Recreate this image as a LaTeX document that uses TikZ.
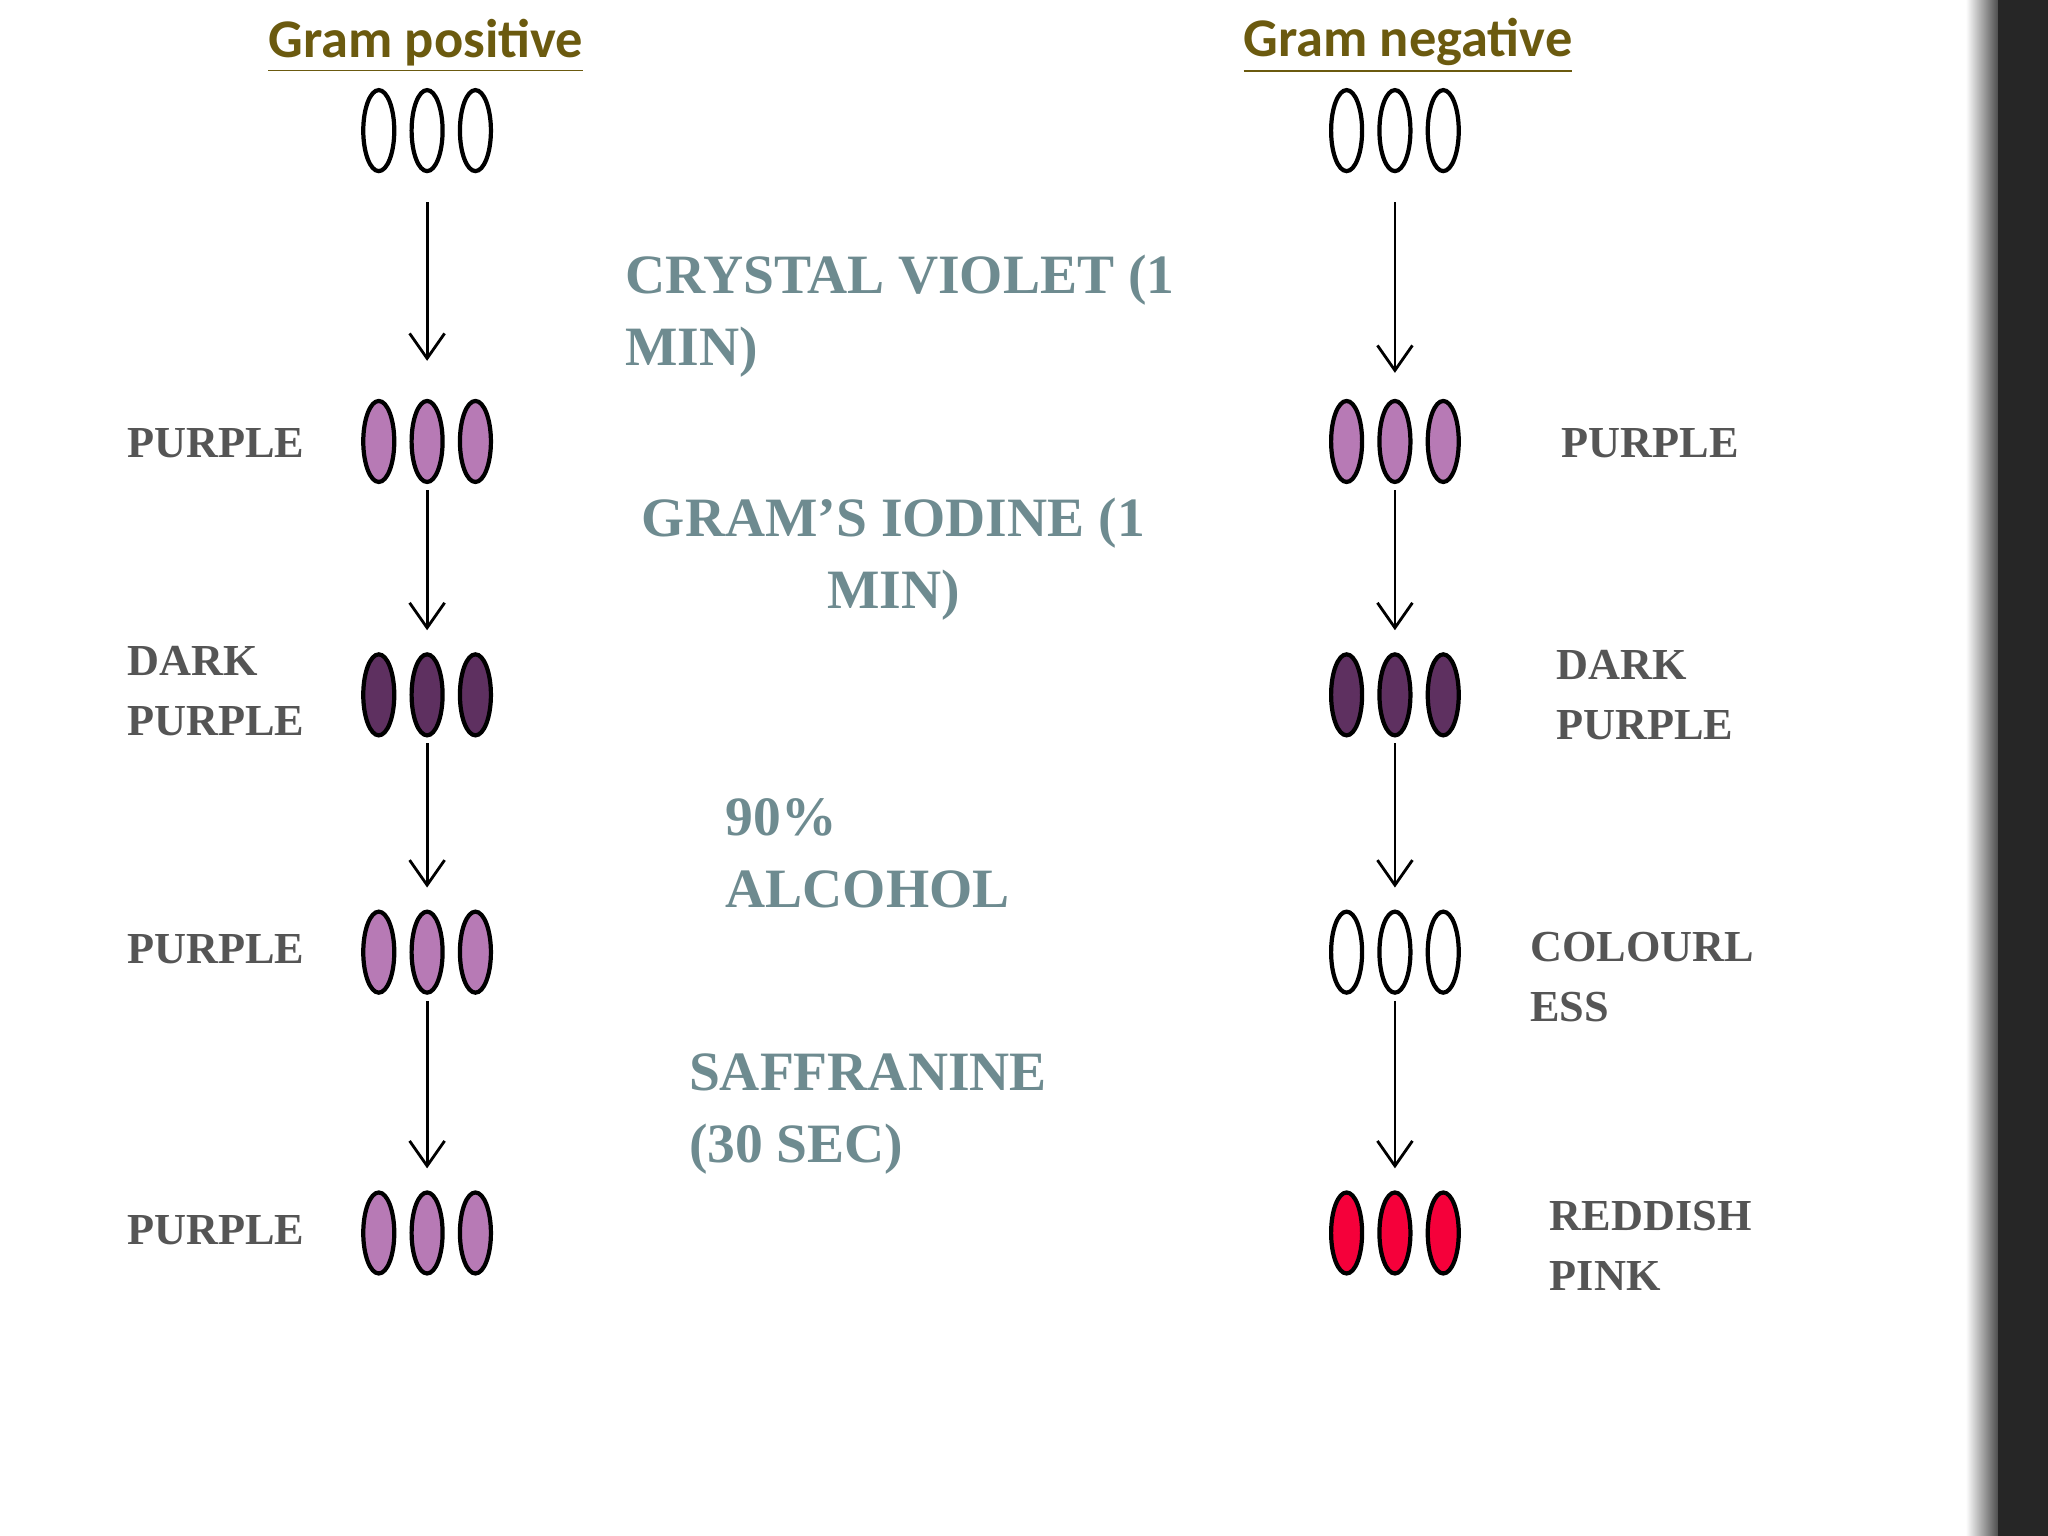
\documentclass[tikz,border=0pt]{standalone}
\usepackage{fontspec}
\setmainfont{Liberation Serif}
\newfontfamily\titlefont{Carlito}
\usetikzlibrary{shapes.geometric,arrows.meta}
\definecolor{titlecol}{HTML}{6B5A0F}
\definecolor{stepcol}{HTML}{6E8B90}
\definecolor{sidecol}{HTML}{555555}
\definecolor{lightp}{HTML}{B77AB5}
\definecolor{darkp}{HTML}{5E3060}
\definecolor{redp}{HTML}{F5003A}
\tikzset{
	cell/.style={ellipse, draw, line width=1.2pt, minimum width=0.31cm, minimum height=0.81cm, inner sep=0},
	flow/.style={-{Straight Barb[length=2.5mm,width=3.5mm]}, line width=0.8pt, shorten <=0.06cm, shorten >=0.22cm},
	stain/.style={text=stepcol, font=\bfseries\fontsize{15.8}{20.5}\selectfont, align=left, inner sep=0},
	side/.style={text=sidecol, font=\bfseries\fontsize{12.6}{17}\selectfont, align=left, inner sep=0, anchor=west},
	head/.style={text=titlecol, font=\titlefont\bfseries\fontsize{15.5}{19}\selectfont, inner sep=1pt},
}
\begin{document}
\begin{tikzpicture}[x=0.013061cm, y=-0.013061cm]
		\useasboundingbox (0,0) rectangle (1568,1176);
		\shade[left color=white, right color=black!70] (1505,0) rectangle (1530,1176);
		\fill[black!85] (1530,0) rectangle (1568,1176);
		\node[head] (gpos) at (326,35) {\underline{Gram positive}};
		\node[head] (gneg) at (1078,35) {\underline{Gram negative}};
		% cells
		\foreach \r/\y/\cl/\cr in {1/100/white/white, 2/338/lightp/lightp, 3/532/darkp/darkp, 4/729/lightp/white, 5/944/lightp/redp}{
			\foreach \i/\dx in {1/-37,2/0,3/37}{
				\node[cell, fill=\cl] (p\r\i) at (327+\dx,\y) {};
				\node[cell, fill=\cr] (n\r\i) at (1068+\dx,\y) {};
			}
		}
		% arrows
		\draw[flow, shorten <=0.29cm, shorten >=0.38cm] (p12) -- (p22);
		\draw[flow, shorten <=0.29cm, shorten >=0.26cm] (n12) -- (n22);
		\foreach \a/\b in {2/3,3/4,4/5}{
			\draw[flow] (p\a2) -- (p\b2);
			\draw[flow] (n\a2) -- (n\b2);
		}
		% steps
		\node[stain, anchor=west] (cv) at (478,242) {CRYSTAL VIOLET (1\\MIN)};
		\node[stain, align=center] (gi) at (684,428) {GRAM'S IODINE (1\\MIN)};
		\node[stain, anchor=west] (alc) at (555,653) {90\%\\ALCOHOL};
		\node[stain, anchor=west] (saf) at (527,853) {SAFFRANINE\\(30 SEC)};
		% colours
		\node[side] (lp1) at (97,339) {PURPLE};
		\node[side] (lp2) at (97,529) {DARK\\PURPLE};
		\node[side] (lp3) at (97,727) {PURPLE};
		\node[side] (lp4) at (97,942) {PURPLE};
		\node[side] (rp1) at (1195,339) {PURPLE};
		\node[side] (rp2) at (1191,532) {DARK\\PURPLE};
		\node[side] (rp3) at (1171,748) {COLOURL\\ESS};
		\node[side] (rp4) at (1186,954) {REDDISH\\PINK};
\end{tikzpicture}
\end{document}
